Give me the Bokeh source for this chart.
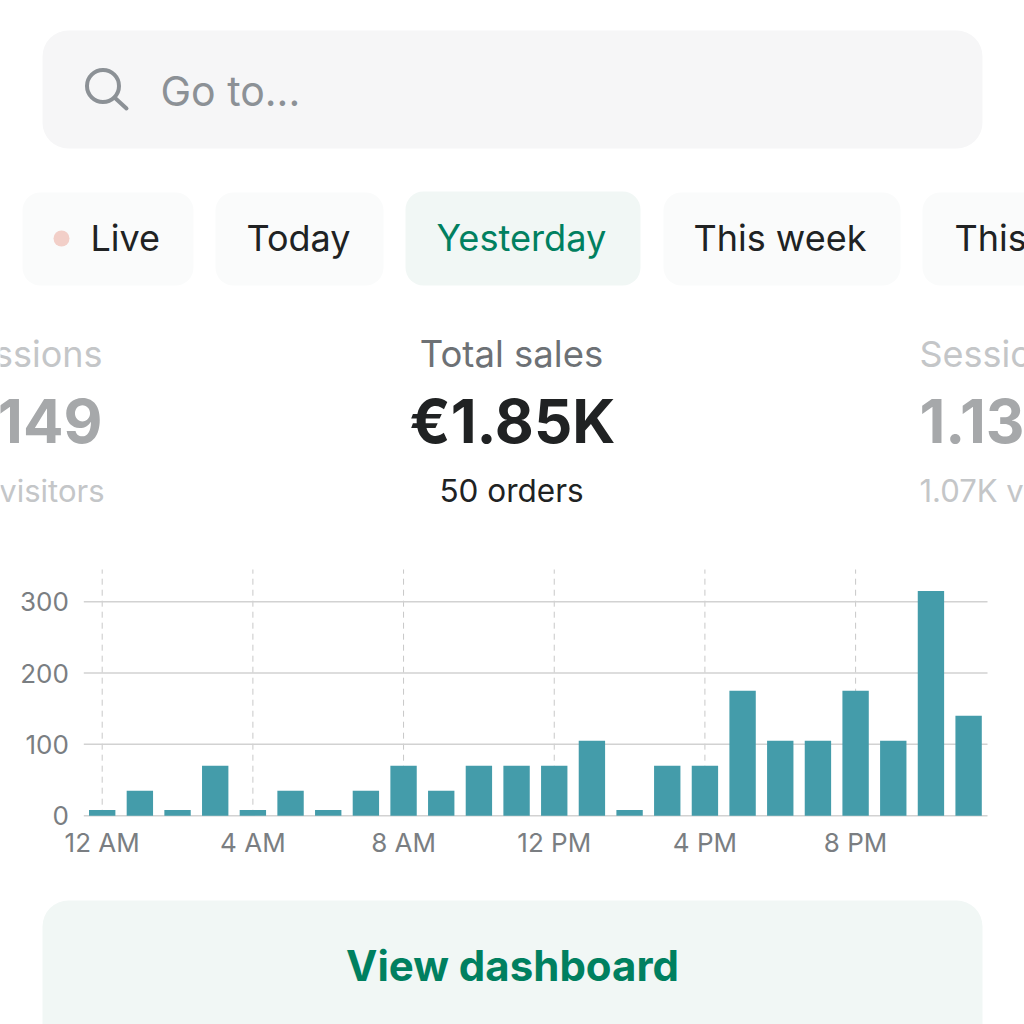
from bokeh.core.properties import value
from bokeh.embed import file_html
from bokeh.models import FixedTicker, LinearAxis, Range1d
from bokeh.plotting import figure
from bokeh.resources import INLINE

# Chart data
hours = list(range(24))
sales = [8, 35, 8, 70, 8, 35, 8, 35, 70, 35, 70, 70, 70, 105, 8, 70, 70, 175, 105, 105, 175, 105, 315, 140]
y_ticks = [0, 100, 200, 300]
x_ticks = [0, 4, 8, 12, 16, 20]
x_labels = ["12 AM", "4 AM", "8 AM", "12 PM", "4 PM", "8 PM"]

# Labels around the chart
tabs = ["Live", "Today", "Yesterday", "This week", "This month"]
stat_titles = ["Sessions", "Total sales", "Sessions"]
stat_values = ["149", "€1.85K", "1.13K"]
stat_notes = ["visitors", "50 orders", "1.07K visitors"]

FONT = "Inter"
GREEN = "#008060"
DARK = "#202223"
GRID = "#d2d2d2"
SIZE = 1024

# window pixels of hour 0 and sales 0, and the scale of both axes
X0, PX_PER_HOUR = 101.7, 37.67
Y0, PX_PER_UNIT = 815.2, 214 / 300
x_left, x_right = (83.3 - X0) / PX_PER_HOUR, (987 - X0) / PX_PER_HOUR
y_top = (Y0 - 569) / PX_PER_UNIT

# the frame fills the whole page, so the chart's ranges run past the chart
p = figure(
    width=SIZE,
    height=SIZE,
    output_backend="svg",
    toolbar_location=None,
    x_range=Range1d(-X0 / PX_PER_HOUR, (SIZE - X0) / PX_PER_HOUR),
    y_range=Range1d((Y0 - SIZE) / PX_PER_UNIT, Y0 / PX_PER_UNIT),
    x_axis_location=None,
    y_axis_location=None,
    min_border=0,
    outline_line_color=None,
)
p.grid.visible = False
p.extra_x_ranges["px"] = Range1d(0, SIZE)
p.extra_y_ranges["px"] = Range1d(SIZE, 0)


def box(left, right, top, bottom, color, radius=18):
    p.quad(left=left, right=right, top=top, bottom=bottom, fill_color=color, line_color=None,
           border_radius=radius, x_range_name="px", y_range_name="px")


def text(x, y, label, size, color, align="left", style="normal"):
    p.text(x=[x], y=[y], text=[label], text_font=value(FONT), text_font_size=f"{size}px", text_color=color,
           text_align=align, text_baseline="middle", text_font_style=style,
           x_range_name="px", y_range_name="px")


# search field
box(42, 982, 30, 148, "#f6f6f7", 26)
p.scatter(x=[102.5], y=[85.5], size=32, marker="circle", fill_alpha=0, line_color="#8c9196", line_width=4,
          x_range_name="px", y_range_name="px")
p.segment(x0=[114], y0=[97], x1=[126], y1=[108], line_color="#8c9196", line_width=4, line_cap="round",
          x_range_name="px", y_range_name="px")
text(160, 90, "Go to...", 41, "#8c9196")

# period tabs
box(22, 193, 192, 285, "#fafbfb")
box(215, 383, 192, 285, "#fafbfb")
box(405, 640, 191, 285, "#f1f7f5")
box(663, 900, 192, 285, "#fafbfb")
box(922, 1060, 192, 285, "#fafbfb")
p.scatter(x=[61], y=[238], size=16, marker="circle", fill_color="#f2cfc8", line_color=None,
          x_range_name="px", y_range_name="px")
text(90, 237, tabs[0], 36, DARK)
text(246, 237, tabs[1], 36, DARK)
text(436, 237, tabs[2], 36.2, GREEN)
text(693, 237, tabs[3], 36, DARK)
text(954, 237, tabs[4], 36, DARK)

# stats
text(102, 353, stat_titles[0], 36, "#c4c6c8", "right")
text(102, 420, stat_values[0], 60, "#a6a8aa", "right", "bold")
text(104, 490, stat_notes[0], 31, "#c4c6c8", "right")
text(511, 353, stat_titles[1], 36.5, "#6d7175", "center")
text(512, 420, stat_values[1], 60, DARK, "center", "bold")
text(511, 490, stat_notes[1], 31.5, DARK, "center")
text(919, 353, stat_titles[2], 36, "#c4c6c8")
text(919, 420, stat_values[2], 60, "#a6a8aa", "left", "bold")
text(919, 490, stat_notes[2], 31, "#c4c6c8")

# button
box(42, 982, 900, 1060, "#f1f7f5", 26)
text(512, 965, "View dashboard", 42, GREEN, "center", "bold")

# chart
p.segment(x0=x_ticks, x1=x_ticks, y0=0, y1=y_top, line_color="#c8c8c8", line_width=1, line_dash="6 5")
p.segment(x0=x_left, x1=x_right, y0=y_ticks, y1=y_ticks, line_color=GRID, line_width=1.5)
p.vbar(x=hours, top=sales, width=0.7, bottom=0, fill_color="#449caa", line_color=None)

xaxis = LinearAxis(fixed_location=0, ticker=FixedTicker(ticks=x_ticks))
xaxis.major_label_overrides = dict(zip(x_ticks, x_labels))
xaxis.axis_line_color = None
xaxis.major_tick_line_color = None
xaxis.minor_tick_line_color = None
xaxis.major_label_standoff = 5
xaxis.major_label_text_font = FONT
xaxis.major_label_text_font_size = "26px"
xaxis.major_label_text_color = "#7a7e82"
p.add_layout(xaxis, "below")

yaxis = LinearAxis(fixed_location=x_left, ticker=FixedTicker(ticks=y_ticks))
yaxis.axis_line_color = None
yaxis.major_tick_line_color = None
yaxis.minor_tick_line_color = None
yaxis.major_label_standoff = 9
yaxis.major_label_text_font = FONT
yaxis.major_label_text_font_size = "26px"
yaxis.major_label_text_color = "#7a7e82"
p.add_layout(yaxis, "left")

open("out.html", "w").write(file_html(p, INLINE))
